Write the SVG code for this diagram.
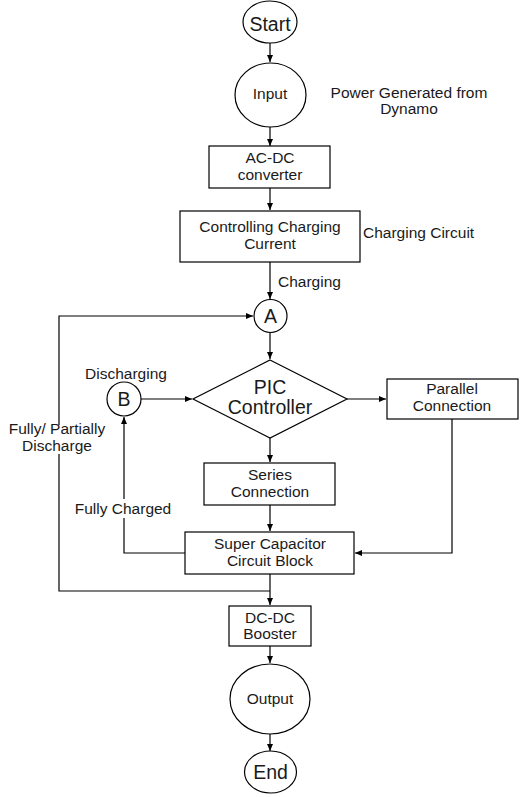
<svg xmlns="http://www.w3.org/2000/svg" width="522" height="797" viewBox="0 0 522 797">
<style>
.s{fill:#fff;stroke:#000;stroke-width:1.2}
.c{fill:none;stroke:#000;stroke-width:1.2}
text{font-family:"Liberation Sans",Arial,sans-serif;font-size:15.5px;fill:#1a1a1a;text-anchor:middle}
.b{font-size:19.5px}
.l{text-anchor:start}
</style>
<defs>
<marker id="ar" markerWidth="8" markerHeight="8" refX="7" refY="4" orient="auto" markerUnits="userSpaceOnUse">
<path d="M0,1 L7,4 L0,7 Z" fill="#000"/>
</marker>
</defs>
<rect width="522" height="797" fill="#fff"/>
<g id="connectors">
<path class="c" d="M270 43 V62" marker-end="url(#ar)"/>
<path class="c" d="M270 127 V146" marker-end="url(#ar)"/>
<path class="c" d="M270 188 V210" marker-end="url(#ar)"/>
<path class="c" d="M270 262 V299" marker-end="url(#ar)"/>
<path class="c" d="M270 333 V359" marker-end="url(#ar)"/>
<path class="c" d="M141 399 H192" marker-end="url(#ar)"/>
<path class="c" d="M347 399 H386" marker-end="url(#ar)"/>
<path class="c" d="M270 438 V462" marker-end="url(#ar)"/>
<path class="c" d="M270 505 V531" marker-end="url(#ar)"/>
<path class="c" d="M452 419 V553 H355" marker-end="url(#ar)"/>
<path class="c" d="M185 553 H124 V518"/>
<path class="c" d="M124 499 V417" marker-end="url(#ar)"/>
<path class="c" d="M270 574 V605" marker-end="url(#ar)"/>
<path class="c" d="M270 591 H59 V454"/>
<path class="c" d="M59 425 V316 H253" marker-end="url(#ar)"/>
<path class="c" d="M270 646 V663" marker-end="url(#ar)"/>
<path class="c" d="M270 734 V751" marker-end="url(#ar)"/>
</g>
<g id="start"><ellipse class="s" cx="270" cy="22" rx="27" ry="21"/><text class="b" x="270" y="31">Start</text></g>
<g id="input"><ellipse class="s" cx="270.5" cy="95" rx="35.5" ry="32"/><text x="270" y="99">Input</text></g>
<g id="note-power"><text x="409" y="98">Power Generated from</text><text x="409" y="114">Dynamo</text></g>
<g id="acdc"><rect class="s" x="209" y="146" width="121" height="42"/><text x="270" y="163">AC-DC</text><text x="270" y="180">converter</text></g>
<g id="controlling"><rect class="s" x="180" y="211" width="180" height="51"/><text x="270" y="232">Controlling Charging</text><text x="270" y="249">Current</text></g>
<g id="note-circuit"><text class="l" x="363" y="238">Charging Circuit</text></g>
<g id="label-charging"><text class="l" x="278" y="287">Charging</text></g>
<g id="a"><circle class="s" cx="270.5" cy="316" r="16.5"/><text class="b" x="270.5" y="323">A</text></g>
<g id="pic"><polygon class="s" points="270,360 347,399 270,438 193,399"/><text class="b" x="270" y="394">PIC</text><text class="b" x="270" y="414">Controller</text></g>
<g id="b"><circle class="s" cx="124" cy="399" r="17"/><text class="b" x="124" y="406">B</text></g>
<g id="label-discharging"><text x="126" y="379">Discharging</text></g>
<g id="parallel"><rect class="s" x="387" y="379" width="131" height="40"/><text x="452" y="394">Parallel</text><text x="452" y="411">Connection</text></g>
<g id="label-fully-partially"><text x="57" y="434">Fully/ Partially</text><text x="57" y="451">Discharge</text></g>
<g id="series"><rect class="s" x="204" y="463" width="131" height="42"/><text x="270" y="480">Series</text><text x="270" y="497">Connection</text></g>
<g id="label-fully-charged"><text x="123" y="514">Fully Charged</text></g>
<g id="supercap"><rect class="s" x="185" y="532" width="169" height="42"/><text x="270" y="549">Super Capacitor</text><text x="270" y="566">Circuit Block</text></g>
<g id="dcdc"><rect class="s" x="229" y="606" width="82" height="40"/><text x="270" y="623">DC-DC</text><text x="270" y="639">Booster</text></g>
<g id="output"><ellipse class="s" cx="270" cy="699" rx="40" ry="35"/><text x="270" y="704">Output</text></g>
<g id="end"><ellipse class="s" cx="270.5" cy="772" rx="26" ry="21"/><text class="b" x="270.5" y="779">End</text></g>
</svg>
